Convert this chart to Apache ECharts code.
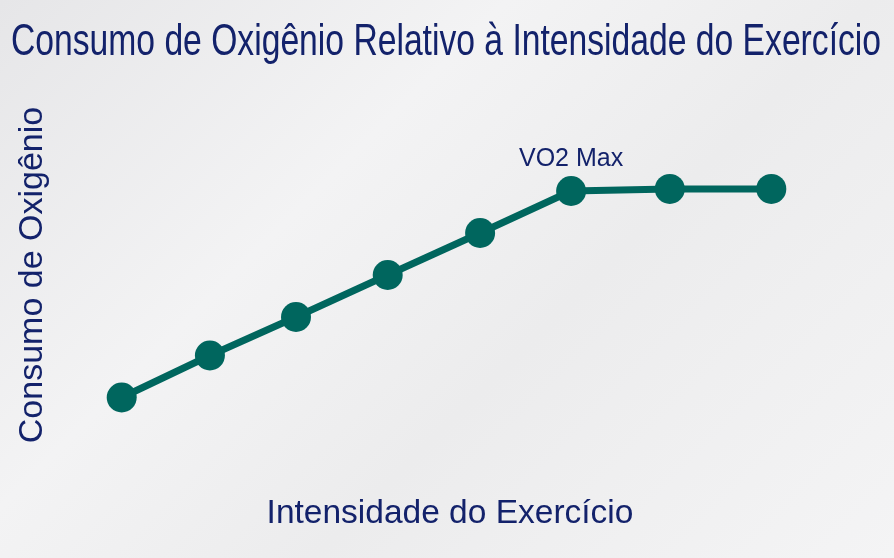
<!DOCTYPE html>
<html>
<head>
<meta charset="utf-8">
<script src="https://cdn.jsdelivr.net/npm/echarts@6/dist/echarts.min.js"></script>
<style>
html,body{margin:0;padding:0;}
#c{width:894px;height:558px;background:linear-gradient(135deg,#e6e6e8 0%,#f3f3f4 35%,#ececed 60%,#f4f4f5 100%);}
</style>
</head>
<body>
<div id="c"></div>
<script>
var titleText = 'Consumo de Oxigênio Relativo à Intensidade do Exercício';
var xName = 'Intensidade do Exercício';
var yName = 'Consumo de Oxigênio';
var intensity = [3.1, 15.7, 28, 41.1, 54.3, 67.3, 81.4, 95.9];
var oxygen = [15, 27, 38, 50, 62, 74, 74.6, 74.6];
var peakLabel = 'VO2 Max';
var peakIndex = 5;

var data = intensity.map(function (x, i) {
  var d = { value: [x, oxygen[i]] };
  if (i === peakIndex) {
    d.label = { show: true, position: 'top', distance: 4, formatter: peakLabel,
      color: '#13226b', fontSize: 25, fontFamily: 'Liberation Sans, Arial, sans-serif' };
  }
  return d;
});

var chart = echarts.init(document.getElementById('c'), null, { renderer: 'canvas' });
chart.setOption({
  backgroundColor: 'transparent',
  graphic: [{
    type: 'text', x: 446, y: 43, scaleX: 0.748, scaleY: 1,
    style: { text: titleText, fill: '#13226b', fontSize: 45,
      fontFamily: 'Liberation Sans, Arial, sans-serif',
      textAlign: 'center', textVerticalAlign: 'middle' }
  }],
  grid: { left: 100, right: 94, top: 100, bottom: 108 },
  xAxis: {
    type: 'value', min: 0, max: 100,
    name: xName, nameLocation: 'middle', nameGap: 47,
    nameTextStyle: { color: '#13226b', fontSize: 33.5, fontFamily: 'Liberation Sans, Arial, sans-serif' },
    axisLine: { show: false }, axisTick: { show: false }, axisLabel: { show: false }, splitLine: { show: false }
  },
  yAxis: {
    type: 'value', min: 0, max: 100,
    name: yName, nameLocation: 'middle', nameGap: 50,
    nameTextStyle: { color: '#13226b', fontSize: 34, fontFamily: 'Liberation Sans, Arial, sans-serif' },
    axisLine: { show: false }, axisTick: { show: false }, axisLabel: { show: false }, splitLine: { show: false }
  },
  series: [{
    type: 'line', data: data,
    symbol: 'circle', symbolSize: 30,
    lineStyle: { color: '#00665e', width: 7 },
    itemStyle: { color: '#00665e' },
    animation: false
  }]
});
</script>
</body>
</html>
